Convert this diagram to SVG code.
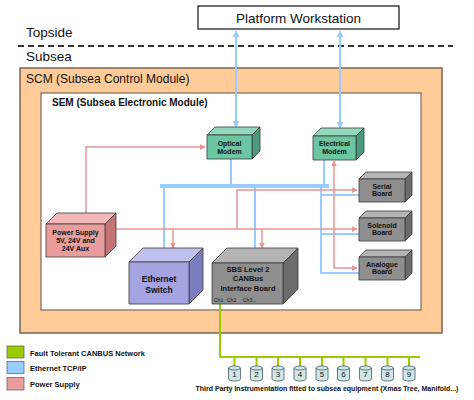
<svg xmlns="http://www.w3.org/2000/svg" width="474" height="400" viewBox="0 0 474 400">
<defs>
<style>
text{font-family:"Liberation Sans",Arial,sans-serif;fill:#111}
.b{font-weight:bold}
.c{text-anchor:middle}
.eth{fill:none;stroke:#99CCFF;stroke-width:2}
.pwr{fill:none;stroke:#E89494;stroke-width:1.5}
.can{fill:none;stroke:#99CC00;stroke-width:2}
.gf{fill:#8F8F8F}.gt{fill:#B4B4B4}.gr{fill:#6C6C6C}
.mf{fill:#6CC6A2}.mt{fill:#93D8BB}.mr{fill:#4A9A7B}
.pf{fill:#E89C9C}.pt{fill:#F2B8B8}.pr{fill:#C47474}
.ef{fill:#A4A4E2}.et{fill:#C0C0EE}.er{fill:#7C7CC0}
.box path{stroke:#3A3A3A;stroke-width:0.8;stroke-linejoin:round}
.cyl{fill:#CDE6E8;stroke:#4A5A60;stroke-width:0.8}
</style>
<marker id="ab" viewBox="0 0 8 8" refX="7" refY="4" markerWidth="7" markerHeight="7" markerUnits="userSpaceOnUse" orient="auto-start-reverse"><path d="M0,0 L8,4 L0,8 z" fill="#99CCFF"/></marker>
<marker id="ar" viewBox="0 0 8 8" refX="7" refY="4" markerWidth="6" markerHeight="6" markerUnits="userSpaceOnUse" orient="auto-start-reverse"><path d="M0,0 L8,4 L0,8 z" fill="#E89494"/></marker>
</defs>
<rect width="474" height="400" fill="#fff"/>

<g id="workstation">
<rect x="198" y="6" width="201" height="23" fill="#fff" stroke="#222" stroke-width="1.3"/>
<text x="298.5" y="23" class="c" font-size="13.5">Platform Workstation</text>
</g>
<text x="26" y="36.5" font-size="13.5">Topside</text>
<line x1="18" y1="46" x2="453" y2="46" stroke="#333" stroke-width="2" stroke-dasharray="6,4"/>
<text x="26" y="61" font-size="13.5">Subsea</text>

<g id="scm">
<rect x="20" y="68" width="422" height="265" fill="#FFCC99" stroke="#7A6550" stroke-width="1.5"/>
<text x="26" y="83" font-size="12">SCM (Subsea Control Module)</text>
</g>
<g id="sem">
<rect x="41" y="93" width="380" height="217" fill="#fff" stroke="#7A6A5A" stroke-width="1.2"/>
<text x="52" y="106" class="b" font-size="10">SEM (Subsea Electronic Module)</text>
</g>

<g id="connectors">
<!-- Ethernet -->
<path class="eth" d="M236,31 V127" marker-start="url(#ab)" marker-end="url(#ab)"/>
<path class="eth" d="M340,31 V128" marker-start="url(#ab)" marker-end="url(#ab)"/>
<path class="eth" d="M231,159 V186"/>
<path class="eth" d="M324,160 V186"/>
<path d="M160,186 H329" stroke="#99CCFF" stroke-width="4" fill="none"/>
<path class="eth" d="M164,186 V250"/>
<path class="eth" d="M255,186 V250"/>
<path class="eth" d="M321,186 V273 H359 M321,195 H359 M321,234 H359"/>
<!-- Power -->
<path class="pwr" d="M86,214 V147 H205" marker-end="url(#ar)"/>
<path class="pwr" d="M108,229 H357" marker-end="url(#ar)"/>
<path class="pwr" d="M173,229 V248" marker-end="url(#ar)"/>
<path class="pwr" d="M262,229 V248" marker-end="url(#ar)"/>
<path class="pwr" d="M237,229 V190 H357" marker-end="url(#ar)"/>
<path class="pwr" d="M334,161 V268 H357" marker-start="url(#ar)" marker-end="url(#ar)"/>
<!-- CANBUS -->
<path class="can" d="M220,304 V357 H420"/>
<path class="can" d="M234.5,357 V366 M256.5,357 V366 M278,357 V366 M300,357 V366 M322,357 V366 M343.5,357 V366 M365.5,357 V366 M387.5,357 V366 M409,357 V366"/>
</g>

<g id="optical-modem" class="box">
<path class="mt" d="M207,135 L215,127 H260 L252,135 Z"/>
<path class="mr" d="M252,135 L260,127 V151 L252,159 Z"/>
<path class="mf" d="M207,135 H252 V159 H207 Z"/>
<text x="229.5" y="145.5" class="b c" font-size="7">Optical</text>
<text x="229.5" y="153.5" class="b c" font-size="7">Modem</text>
</g>
<g id="electrical-modem" class="box">
<path class="mt" d="M313,136 L321,128 H364 L356,136 Z"/>
<path class="mr" d="M356,136 L364,128 V152 L356,160 Z"/>
<path class="mf" d="M313,136 H356 V160 H313 Z"/>
<text x="334.5" y="145.5" class="b c" font-size="7">Electrical</text>
<text x="334.5" y="153.5" class="b c" font-size="7">Modem</text>
</g>
<g id="power-supply" class="box">
<path class="pt" d="M46,224 L57,213 H116 L105,224 Z"/>
<path class="pr" d="M105,224 L116,213 V246 L105,257 Z"/>
<path class="pf" d="M46,224 H105 V257 H46 Z"/>
<text x="75.5" y="235" class="b c" font-size="7">Power Supply</text>
<text x="75.5" y="242.5" class="b c" font-size="7">5V, 24V and</text>
<text x="75.5" y="250.5" class="b c" font-size="7">24V Aux</text>
</g>
<g id="ethernet-switch" class="box">
<path class="et" d="M129,262 L143,248 H203 L189,262 Z"/>
<path class="er" d="M189,262 L203,248 V290 L189,304 Z"/>
<path class="ef" d="M129,262 H189 V304 H129 Z"/>
<text x="159" y="282" class="b c" font-size="8.5">Ethernet</text>
<text x="159" y="293" class="b c" font-size="8.5">Switch</text>
</g>
<g id="sbs-board" class="box">
<path class="gt" d="M212,263 L227,248 H298 L283,263 Z"/>
<path class="gr" d="M283,263 L298,248 V289 L283,304 Z"/>
<path class="gf" d="M212,263 H283 V304 H212 Z"/>
<text x="248" y="272" class="b c" font-size="7.5">SBS Level 2</text>
<text x="248" y="281" class="b c" font-size="7.5">CANBus</text>
<text x="248" y="291" class="b c" font-size="7.5">Interface Board</text>
<text y="302" font-size="5"><tspan x="214">Ch1</tspan><tspan x="227">Ch2</tspan><tspan x="243">Ch3...</tspan></text>
</g>
<g id="serial-board" class="box">
<path class="gt" d="M359,179 L366,172 H412 L405,179 Z"/>
<path class="gr" d="M405,179 L412,172 V195 L405,202 Z"/>
<path class="gf" d="M359,179 H405 V202 H359 Z"/>
<text x="382" y="188.5" class="b c" font-size="7">Serial</text>
<text x="382" y="196" class="b c" font-size="7">Board</text>
</g>
<g id="solenoid-board" class="box">
<path class="gt" d="M359,218 L366,211 H412 L405,218 Z"/>
<path class="gr" d="M405,218 L412,211 V234 L405,241 Z"/>
<path class="gf" d="M359,218 H405 V241 H359 Z"/>
<text x="382" y="227.5" class="b c" font-size="7">Solenoid</text>
<text x="382" y="235" class="b c" font-size="7">Board</text>
</g>
<g id="analogue-board" class="box">
<path class="gt" d="M359,257 L366,250 H412 L405,257 Z"/>
<path class="gr" d="M405,257 L412,250 V273 L405,280 Z"/>
<path class="gf" d="M359,257 H405 V280 H359 Z"/>
<text x="382" y="266.5" class="b c" font-size="7">Analogue</text>
<text x="382" y="274" class="b c" font-size="7">Board</text>
</g>

<g id="instruments">
<g id="i1"><path class="cyl" d="M228.5,368 V379 A6,2 0 0 0 240.5,379 V368 A6,2 0 0 0 228.5,368 A6,2 0 0 0 240.5,368"/><text x="234.5" y="377" class="c" font-size="8">1</text></g>
<g id="i2"><path class="cyl" d="M250.5,368 V379 A6,2 0 0 0 262.5,379 V368 A6,2 0 0 0 250.5,368 A6,2 0 0 0 262.5,368"/><text x="256.5" y="377" class="c" font-size="8">2</text></g>
<g id="i3"><path class="cyl" d="M272,368 V379 A6,2 0 0 0 284,379 V368 A6,2 0 0 0 272,368 A6,2 0 0 0 284,368"/><text x="278" y="377" class="c" font-size="8">3</text></g>
<g id="i4"><path class="cyl" d="M294,368 V379 A6,2 0 0 0 306,379 V368 A6,2 0 0 0 294,368 A6,2 0 0 0 306,368"/><text x="300" y="377" class="c" font-size="8">4</text></g>
<g id="i5"><path class="cyl" d="M316,368 V379 A6,2 0 0 0 328,379 V368 A6,2 0 0 0 316,368 A6,2 0 0 0 328,368"/><text x="322" y="377" class="c" font-size="8">5</text></g>
<g id="i6"><path class="cyl" d="M337.5,368 V379 A6,2 0 0 0 349.5,379 V368 A6,2 0 0 0 337.5,368 A6,2 0 0 0 349.5,368"/><text x="343.5" y="377" class="c" font-size="8">6</text></g>
<g id="i7"><path class="cyl" d="M359.5,368 V379 A6,2 0 0 0 371.5,379 V368 A6,2 0 0 0 359.5,368 A6,2 0 0 0 371.5,368"/><text x="365.5" y="377" class="c" font-size="8">7</text></g>
<g id="i8"><path class="cyl" d="M381.5,368 V379 A6,2 0 0 0 393.5,379 V368 A6,2 0 0 0 381.5,368 A6,2 0 0 0 393.5,368"/><text x="387.5" y="377" class="c" font-size="8">8</text></g>
<g id="i9"><path class="cyl" d="M403,368 V379 A6,2 0 0 0 415,379 V368 A6,2 0 0 0 403,368 A6,2 0 0 0 415,368"/><text x="409" y="377" class="c" font-size="8">9</text></g>
<text x="327" y="391" class="b c" font-size="7">Third Party Instrumentation fitted to subsea equipment (Xmas Tree, Manifold...)</text>
</g>

<g id="legend">
<rect x="7" y="346" width="17" height="12" fill="#99CC00" stroke="#666" stroke-width="0.8"/>
<text x="30" y="355.5" class="b" font-size="7.5">Fault Tolerant CANBUS Network</text>
<rect x="7" y="361.5" width="17" height="12" fill="#99CCFF" stroke="#666" stroke-width="0.8"/>
<text x="30" y="371" class="b" font-size="7.5">Ethernet TCP/IP</text>
<rect x="7" y="377.5" width="17" height="12.5" fill="#E89C9C" stroke="#666" stroke-width="0.8"/>
<text x="30" y="387" class="b" font-size="7.5">Power Supply</text>
</g>
</svg>
